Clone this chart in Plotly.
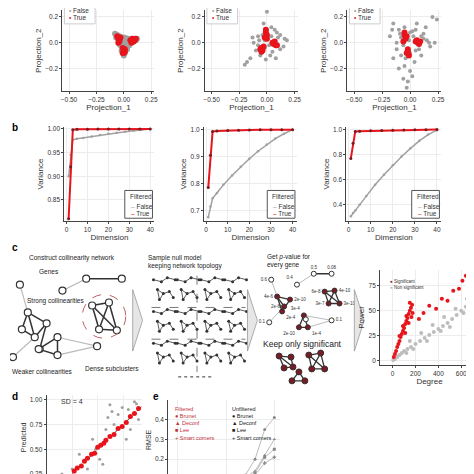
import plotly.graph_objects as go

W = H = 474
RED = "#e8141b"
GREY = "#a0a0a0"
DRED = "#7a1a22"

# ---- panel a: projections (x, y) ----
a1_false_x = [-0.08, -0.06, -0.04, -0.02, 0.0, 0.02, 0.04, 0.06, 0.08, 0.10, 0.12, -0.05, -0.02, 0.01, 0.03, 0.05, 0.07, -0.03, 0.0, 0.02, -0.01, 0.0, 0.03, 0.05, -0.06, -0.07, -0.04, 0.09, 0.11, -0.02, 0.01]
a1_false_y = [0.07, 0.06, 0.05, 0.04, 0.04, 0.035, 0.03, 0.03, 0.03, 0.03, 0.03, 0.03, 0.01, 0.0, -0.01, 0.0, 0.01, -0.02, -0.04, -0.03, -0.07, -0.10, -0.05, -0.02, 0.05, 0.04, -0.01, 0.01, 0.02, -0.06, -0.08]
a1_true_x = [-0.06, -0.05, -0.04, -0.03, -0.05, -0.04, 0.06, 0.08, 0.10, 0.07, 0.09, 0.11, -0.01, 0.0, 0.01, -0.01, 0.0, 0.01]
a1_true_y = [0.05, 0.03, 0.02, 0.04, 0.0, 0.01, 0.02, 0.03, 0.02, 0.0, 0.01, 0.03, -0.04, -0.06, -0.05, -0.08, -0.08, -0.07]

a2_false_x = [-0.12, -0.08, -0.05, 0.0, 0.05, 0.10, 0.15, 0.18, -0.10, -0.06, 0.04, 0.08, 0.12, -0.02, 0.02, -0.04, 0.06, -0.15, -0.20, -0.18, 0.0, -0.03, 0.03, 0.09, -0.08, 0.12, 0.16, -0.13, -0.01, 0.07, -0.07, 0.04, -0.02, 0.1]
a2_false_y = [0.0, 0.05, -0.08, 0.10, -0.07, 0.04, -0.03, 0.02, -0.06, -0.10, 0.12, -0.12, 0.06, 0.02, -0.02, 0.06, 0.0, -0.12, -0.17, -0.15, 0.24, 0.15, -0.10, 0.08, -0.02, -0.05, 0.03, 0.04, -0.13, 0.10, 0.02, 0.05, -0.04, -0.02]
a2_true_x = [-0.05, -0.04, -0.06, -0.03, -0.05, -0.02, -0.01, 0.0, -0.01, 0.0, 0.06, 0.08, 0.05, 0.07, 0.09]
a2_true_y = [-0.04, -0.06, -0.05, -0.03, -0.07, 0.04, 0.08, 0.06, 0.10, 0.03, -0.01, -0.02, 0.0, 0.01, -0.02]

a3_false_x = [-0.20, -0.15, -0.10, -0.05, 0.0, 0.05, 0.10, 0.15, 0.20, 0.22, -0.18, -0.12, -0.08, 0.08, 0.12, 0.18, -0.05, 0.0, -0.02, 0.02, -0.03, -0.06, 0.04, -0.10, 0.06, -0.15, 0.14, 0.24, -0.08, 0.0, -0.01, 0.03, -0.12, 0.10, -0.16, 0.17, -0.04, 0.05, -0.09, 0.12, 0.02, -0.06]
a3_false_y = [0.28, 0.15, 0.10, 0.12, 0.08, 0.10, 0.05, 0.02, 0.20, 0.0, 0.05, -0.05, -0.10, -0.05, 0.07, -0.03, -0.18, -0.22, -0.30, -0.26, -0.35, -0.28, -0.15, -0.20, 0.15, -0.12, 0.12, 0.18, 0.04, -0.08, 0.02, 0.05, 0.0, -0.10, 0.10, 0.0, -0.12, -0.06, 0.07, 0.03, 0.09, -0.02]
a3_true_x = [-0.05, -0.04, -0.06, -0.03, -0.05, 0.05, 0.07, 0.09, 0.06, 0.08, -0.02, -0.03, -0.01, -0.02]
a3_true_y = [0.06, 0.03, 0.01, 0.05, 0.08, 0.01, 0.0, 0.01, 0.02, -0.01, -0.05, -0.08, -0.10, -0.07]

# ---- panel b: cumulative variance ----
b_dim_f = [1, 2, 3, 5, 8, 12, 16, 20, 24, 28, 32, 36, 40]
b_dim_t = [1, 2, 3, 5, 10, 15, 20, 25, 30, 35, 40]
b1_false = [0.900, 0.945, 0.977, 0.979, 0.981, 0.984, 0.987, 0.990, 0.992, 0.994, 0.996, 0.998, 1.000]
b1_true = [0.810, 0.920, 0.998, 0.999, 0.999, 1.0, 1.0, 1.0, 1.0, 1.0, 1.0]
b2_false = [0.675, 0.715, 0.745, 0.765, 0.795, 0.830, 0.862, 0.892, 0.920, 0.945, 0.967, 0.985, 1.000]
b2_true = [0.785, 0.905, 0.993, 0.995, 0.997, 0.998, 0.999, 1.0, 1.0, 1.0, 1.0]
b3_false = [0.310, 0.335, 0.355, 0.400, 0.470, 0.560, 0.640, 0.715, 0.785, 0.850, 0.910, 0.960, 0.995]
b3_true = [0.770, 0.890, 0.985, 0.987, 0.990, 0.993, 0.995, 0.997, 0.998, 0.999, 1.0]

# ---- panel c: power vs degree ----
c_sig_deg = [10, 20, 30, 40, 50, 60, 70, 80, 90, 100, 110, 120, 130, 140, 150, 160, 170, 175, 60, 90, 120, 150, 230, 270, 320, 380, 430, 480, 530, 580, 610, 640, 660, 690, 110, 140, 165]
c_sig_pow = [4, 7, 10, 14, 17, 20, 24, 27, 30, 33, 37, 40, 43, 47, 50, 53, 56, 48, 25, 35, 45, 58, 42, 48, 55, 52, 62, 60, 70, 72, 80, 85, 75, 78, 28, 38, 44]
c_non_deg = [5, 20, 40, 60, 80, 100, 130, 160, 200, 240, 280, 320, 360, 400, 440, 480, 520, 560, 600, 640, 680, 700, 150, 250, 350, 450, 550, 650, 120, 180, 300, 420, 500, 620]
c_non_pow = [1, 2, 4, 6, 8, 10, 12, 14, 17, 20, 23, 26, 29, 32, 35, 38, 42, 46, 50, 54, 57, 60, 20, 28, 36, 44, 52, 62, 8, 12, 20, 30, 34, 48]

# ---- panel d: predicted vs true ----
d_red_x = [0.20, 0.23, 0.27, 0.30, 0.34, 0.37, 0.40, 0.44, 0.47, 0.50, 0.53, 0.56, 0.58, 0.62, 0.66, 0.70, 0.74, 0.78, 0.82, 0.86, 0.90]
d_red_y = [0.20, 0.22, 0.28, 0.31, 0.33, 0.38, 0.41, 0.45, 0.46, 0.52, 0.54, 0.56, 0.59, 0.63, 0.65, 0.71, 0.73, 0.77, 0.83, 0.86, 0.91]
d_grey_x = [0.15, 0.25, 0.32, 0.40, 0.45, 0.52, 0.60, 0.62, 0.66, 0.70, 0.74, 0.78, 0.82, 0.86, 0.90, 0.55, 0.48, 0.36, 0.64, 0.80, 0.88, 0.58]
d_grey_y = [0.25, 0.30, 0.45, 0.30, 0.60, 0.40, 0.82, 0.95, 0.75, 0.85, 0.92, 0.60, 0.70, 0.98, 0.80, 0.35, 0.50, 0.20, 0.88, 0.90, 0.96, 0.70]

# ---- panel e: RMSE ----
e_x = [1, 2, 3, 4, 5]
e_brunet = [0.10, 0.12, 0.20, 0.35, 0.41]
e_deconf = [0.10, 0.11, 0.14, 0.22, 0.30]
e_lee = [0.09, 0.10, 0.13, 0.21, 0.25]
e_smart = [0.08, 0.09, 0.12, 0.18, 0.21]

# ---- schematic (pixel-space) ----
net_nodes_x = [10, 53, 77, 113, 18, 37, 25, 12, 30, 48, 48, 29, 83, 100, 90, 108, 3, 88]
net_nodes_y = [277, 283, 271, 271, 305, 316, 330, 322, 342, 330, 348, 342, 298, 295, 322, 323, 350, 339]
net_edges = [(0, 4, "g"), (1, 2, "g"), (2, 3, "k"), (4, 5, "k"), (4, 6, "k"), (5, 6, "k"), (6, 7, "k"), (4, 7, "k"),
             (5, 8, "k"), (9, 10, "k"), (10, 11, "k"), (9, 11, "k"), (12, 13, "k"), (12, 14, "k"), (13, 15, "k"),
             (14, 15, "k"), (12, 15, "k"), (13, 14, "k"), (16, 6, "g"), (9, 17, "g"), (10, 17, "g")]
motif_x = [0, 8, 14, 22, 4, 10, 6, 16, 20]
motif_y = [0, 2, -2, 0, 10, 14, 20, 12, 18]
cell_x = [145, 193]
cell_y = [272, 304, 336]
pv_x = [264, 290, 307, 325, 270, 283, 277, 275, 262, 318, 328, 322, 333, 297, 301, 292, 299, 325]
pv_y = [272, 277, 266, 266, 289, 292, 299, 304, 315, 284, 283, 296, 296, 308, 320, 320, 312, 313]
pv_sig = [0, 0, 0, 0, 1, 1, 1, 1, 0, 1, 1, 1, 1, 1, 1, 1, 0, 0]
pv_edges = [(0, 4, "g"), (1, 2, "g"), (2, 3, "k"), (4, 5, "k"), (4, 6, "k"), (5, 7, "k"), (6, 7, "k"), (4, 7, "k"),
            (6, 8, "g"), (9, 10, "k"), (9, 11, "k"), (10, 12, "k"), (11, 12, "k"), (9, 12, "k"), (10, 11, "k"),
            (13, 14, "k"), (13, 15, "k"), (14, 15, "k"), (13, 17, "g"), (14, 17, "g")]
pv_text = ["0.6", "0.4", "0.5", "0.08", "4e-6", "2e-10", "2e-8", "2e-4", "0.1", "6e-8", "4e-10", "3e-7", "3e-10", "3e-4", "1e-4", "2e-10", "", "0.1"]
pv_pos = ["middle left", "top left", "top center", "top center", "middle left", "middle right", "middle left",
          "bottom right", "middle left", "middle left", "middle right", "middle left", "middle right",
          "top left", "bottom right", "bottom left", "top right", "middle right"]
keep_x = [272, 284, 277, 286, 302, 314, 305, 318, 285, 298, 292]
keep_y = [349, 350, 361, 360, 348, 346, 362, 362, 374, 374, 365]
keep_edges = [(0, 1), (0, 2), (1, 3), (2, 3), (0, 3), (4, 5), (4, 6), (5, 7), (6, 7), (4, 7), (5, 6), (8, 9), (8, 10), (9, 10)]

FONT = "Liberation Sans"
fig = go.Figure()


def dom(x0, x1, y0, y1):
    return [x0 / W, x1 / W], [1 - y1 / H, 1 - y0 / H]


boxes = {
    1: (53, 146, 0, 82), 2: (197, 291, 0, 82), 3: (341, 436, 0, 82),
    4: (55, 146, 118, 213), 5: (196, 290, 118, 213), 6: (340, 436, 118, 213),
    7: (0, 360, 235, 392), 8: (374, 474, 262, 358), 9: (37, 133, 388, 474), 10: (160, 273, 393, 474),
}
layout = dict(width=W, height=H, margin=dict(l=0, r=0, t=0, b=0), plot_bgcolor="white",
              paper_bgcolor="white", font=dict(family=FONT, size=7, color="#333"), showlegend=False)
for k, (x0, x1, y0, y1) in boxes.items():
    dx, dy = dom(x0, x1, y0, y1)
    s = "" if k == 1 else str(k)
    ax = dict(domain=dx, anchor="y" + s, showgrid=True, gridcolor="#ececec", zeroline=False,
              showline=True, linecolor="#444", ticks="outside", ticklen=2,
              tickfont=dict(size=6.5), title_standoff=2)
    ay = dict(domain=dy, anchor="x" + s, showgrid=True, gridcolor="#ececec", zeroline=False,
              showline=True, linecolor="#444", ticks="outside", ticklen=2, tickfont=dict(size=6.5),
              title_standoff=2)
    if k == 7:
        ax = dict(domain=dx, anchor="y7", range=[0, 360], visible=False)
        ay = dict(domain=dy, anchor="x7", range=[392, 235], visible=False)
    layout["xaxis" + s] = ax
    layout["yaxis" + s] = ay
fig.update_layout(**layout)

annotations = []
shapes = []


def paper_text(t, x, y, size=6.5, color="#333", anchor="left", yanchor="middle"):
    annotations.append(dict(text=t, x=x / W, y=1 - y / H, xref="paper", yref="paper", xanchor=anchor,
                            yanchor=yanchor, showarrow=False, align="left", font=dict(size=size, color=color)))


# panel a
proj = [(a1_false_x, a1_false_y, a1_true_x, a1_true_y), (a2_false_x, a2_false_y, a2_true_x, a2_true_y),
        (a3_false_x, a3_false_y, a3_true_x, a3_true_y)]
for i, (fx, fy, tx, ty) in enumerate(proj):
    s = "" if i == 0 else str(i + 1)
    fig.add_trace(go.Scatter(x=fx, y=fy, mode="markers", xaxis="x" + s, yaxis="y" + s,
                             marker=dict(color=GREY, size=4 if i else 6)))
    fig.add_trace(go.Scatter(x=tx, y=ty, mode="markers", xaxis="x" + s, yaxis="y" + s,
                             marker=dict(color=RED, size=6)))
    fig.layout["xaxis" + s].update(range=[-0.56, 0.28], tickvals=[-0.5, -0.25, 0, 0.25],
                                   ticktext=["\u22120.50", "\u22120.25", "0.00", "0.25"],
                                   title=dict(text="Projection_1", font=dict(size=8)))
    fig.layout["yaxis" + s].update(range=[-0.377, 0.254], tickvals=[-0.2, 0, 0.2],
                                   ticktext=["\u22120.2", "0.0", "0.2"],
                                   title=dict(text="Projection_2", font=dict(size=8)))
    x0 = boxes[i + 1][0]
    shapes.append(dict(type="rect", xref="paper", yref="paper", x0=(x0 + 2) / W, x1=(x0 + 33) / W,
                       y0=1 - 14 / H, y1=1.01, fillcolor="white", line=dict(color="#ccc", width=1)))
    paper_text("<span style='color:%s'>\u2022</span> False" % GREY, x0 + 5, 1)
    paper_text("<span style='color:%s'>\u2022</span> True" % RED, x0 + 5, 8)

# panel b
bdata = [(b1_false, b1_true, [0.85, 0.9, 0.95, 1.0], [0.805, 1.004], ["0.85", "0.90", "0.95", "1.00"]),
         (b2_false, b2_true, [0.7, 0.8, 0.9, 1.0], [0.66, 1.01], ["0.7", "0.8", "0.9", "1.0"]),
         (b3_false, b3_true, [0.4, 0.6, 0.8, 1.0], [0.27, 1.02], ["0.4", "0.6", "0.8", "1.0"])]
for i, (bf, bt, tv, rg, tt) in enumerate(bdata):
    k = i + 4
    fig.add_trace(go.Scatter(x=b_dim_f, y=bf, mode="lines+markers", xaxis="x%d" % k, yaxis="y%d" % k,
                             line=dict(color=GREY, width=1.5), marker=dict(size=2.5, color=GREY)))
    fig.add_trace(go.Scatter(x=b_dim_t, y=bt, mode="lines+markers", xaxis="x%d" % k, yaxis="y%d" % k,
                             line=dict(color=RED, width=2), marker=dict(size=3, color=DRED)))
    fig.layout["xaxis%d" % k].update(range=[-1, 42], tickvals=[0, 10, 20, 30, 40],
                                     title=dict(text="Dimension", font=dict(size=8)))
    fig.layout["yaxis%d" % k].update(range=rg, tickvals=tv, ticktext=tt,
                                     title=dict(text="Variance", font=dict(size=8)))
    x1, y1 = boxes[k][1], boxes[k][3]
    shapes.append(dict(type="rect", xref="paper", yref="paper", x0=(x1 - 30) / W, x1=(x1 - 2) / W,
                       y0=1 - (y1 - 3) / H, y1=1 - (y1 - 31) / H, fillcolor="white",
                       line=dict(color="#555", width=1)))
    paper_text("Filtered", x1 - 27, y1 - 25, 6.5)
    paper_text("<span style='color:%s'>\u2013</span> False" % GREY, x1 - 26, y1 - 15, 6.5)
    paper_text("<span style='color:%s'>\u2013</span> True" % RED, x1 - 26, y1 - 8, 6.5)

# panel c scatter
fig.add_trace(go.Scatter(x=c_non_deg, y=c_non_pow, mode="markers", xaxis="x8", yaxis="y8",
                         marker=dict(color="#bdbdbd", size=4)))
fig.add_trace(go.Scatter(x=c_sig_deg, y=c_sig_pow, mode="markers", xaxis="x8", yaxis="y8",
                         marker=dict(color=RED, size=4)))
fig.layout.xaxis8.update(range=[-110, 755], tickvals=[0, 200, 400, 600], title=dict(text="Degree", font=dict(size=8)))
fig.layout.yaxis8.update(range=[-4, 91], tickvals=[0, 25, 50, 75], title=dict(text="Power", font=dict(size=8)))
paper_text("<span style='color:%s'>\u25cf</span> Significant" % DRED, 382, 274, 4.5)
paper_text("<span style='color:#bbb'>\u25cf</span> Non significant", 382, 280, 4.5)

# panel d
fig.add_trace(go.Scatter(x=[0.0, 0.93], y=[0.0, 0.93], mode="lines", xaxis="x9", yaxis="y9",
                         line=dict(color="#333", width=1, dash="dash")))
fig.add_trace(go.Scatter(x=d_grey_x, y=d_grey_y, mode="markers", xaxis="x9", yaxis="y9",
                         marker=dict(color=GREY, size=3)))
fig.add_trace(go.Scatter(x=d_red_x, y=d_red_y, mode="markers", xaxis="x9", yaxis="y9",
                         marker=dict(color=RED, size=5)))
fig.layout.xaxis9.update(range=[0.0, 0.93], tickvals=[0.25, 0.5, 0.75], showticklabels=False)
fig.layout.yaxis9.update(range=[0.19, 1.05], tickvals=[0.25, 0.5, 0.75, 1.0],
                         ticktext=["0.25", "0.50", "0.75", "1.00"], title=dict(text="Predicted", font=dict(size=7)))

# panel e
for ys, sym in [(e_brunet, "circle"), (e_deconf, "triangle-up"), (e_lee, "square"), (e_smart, "cross")]:
    fig.add_trace(go.Scatter(x=e_x, y=ys, mode="lines+markers", xaxis="x10", yaxis="y10",
                             line=dict(color="#bbb", width=1), marker=dict(color="#888", size=3, symbol=sym)))
fig.layout.xaxis10.update(range=[-6, 5.6], showticklabels=False)
fig.layout.yaxis10.update(range=[0.095, 0.5], tickvals=[0.1, 0.2, 0.3, 0.4], title=dict(text="RMSE", font=dict(size=7)))


# schematic
def edge_trace(xs, ys, edges, color, width):
    ex, ey = [], []
    for a, b, *c in edges:
        if c and {"g": "#bbb", "k": "#333"}[c[0]] != color:
            continue
        ex += [xs[a], xs[b], None]
        ey += [ys[a], ys[b], None]
    return go.Scatter(x=ex, y=ey, mode="lines", xaxis="x7", yaxis="y7",
                      line=dict(color=color, width=width), hoverinfo="skip")


fig.add_trace(edge_trace(net_nodes_x, net_nodes_y, net_edges, "#bbb", 1.2))
fig.add_trace(edge_trace(net_nodes_x, net_nodes_y, net_edges, "#333", 1.5))
fig.add_trace(go.Scatter(x=net_nodes_x, y=net_nodes_y, mode="markers", xaxis="x7", yaxis="y7",
                         marker=dict(size=7, color="white", line=dict(color="#333", width=1.2))))
motif_e = [(0, 1, "k"), (1, 2, "k"), (2, 3, "k"), (4, 5, "k"), (5, 6, "k"), (4, 6, "k"), (7, 8, "k"), (5, 7, "k")]
for cx in cell_x:
    for cy in cell_y:
        for off in [0, 24]:
            mx = [cx + off + v for v in motif_x]
            my = [cy + v for v in motif_y]
            fig.add_trace(edge_trace(mx, my, motif_e, "#333", 0.8))
            fig.add_trace(go.Scatter(x=mx, y=my, mode="markers", xaxis="x7", yaxis="y7",
                                     marker=dict(size=3, color="#333")))
fig.add_trace(edge_trace(pv_x, pv_y, pv_edges, "#bbb", 1))
fig.add_trace(edge_trace(pv_x, pv_y, pv_edges, "#333", 1.3))
fig.add_trace(go.Scatter(x=pv_x, y=pv_y, mode="markers+text", text=pv_text, textposition=pv_pos,
                         textfont=dict(size=4.5), xaxis="x7", yaxis="y7",
                         marker=dict(size=5, color=[DRED if s else "white" for s in pv_sig],
                                     line=dict(color="#333", width=1))))
fig.add_trace(edge_trace(keep_x, keep_y, [(a, b, "k") for a, b in keep_edges], "#333", 1.3))
fig.add_trace(go.Scatter(x=keep_x, y=keep_y, mode="markers", xaxis="x7", yaxis="y7",
                         marker=dict(size=6, color=DRED, line=dict(color="#333", width=1))))

shapes += [
    dict(type="circle", xref="x7", yref="y7", x0=73, x1=117, y0=287, y1=331, line=dict(color="#c0606a", dash="dash", width=1)),
    dict(type="line", xref="x7", yref="y7", x0=189, x1=189, y0=268, y1=365, line=dict(color="#555", dash="dash", width=0.8)),
    dict(type="line", xref="x7", yref="y7", x0=143, x1=238, y0=300, y1=300, line=dict(color="#555", dash="dash", width=0.8)),
    dict(type="line", xref="x7", yref="y7", x0=143, x1=238, y0=332, y1=332, line=dict(color="#555", dash="dash", width=0.8)),
    dict(type="line", xref="x7", yref="y7", x0=170, x1=205, y0=370, y1=370, line=dict(color="#333", dash="dot", width=1)),
]
for xa in [124, 240, 348]:
    shapes.append(dict(type="path", xref="x7", yref="y7", path="M%d,282 L%d,313 L%d,344 Z" % (xa, xa + 10, xa),
                       fillcolor="#e6e6e6", line=dict(color="#999", width=0.8)))
fig.update_layout(shapes=shapes)

ann = [("Construct collinearity network", 17, 250, 6.5), ("Genes", 27, 264, 6.5), ("Strong collinearities", 15, 293, 6.5),
       ("Weaker collinearities", 0, 365, 6.5), ("Dense subclusters", 74, 362, 6.5),
       ("Sample null model<br>keeping network topology", 137, 254, 6.5),
       ("Get <i>p</i>-value for<br>every gene", 258, 253, 6.5), ("Keep only significant", 254, 337, 8.5)]
annotations += [dict(text=t, x=x, y=y, xref="x7", yref="y7", xanchor="left", showarrow=False,
                     font=dict(size=s, color="#222"), align="left") for t, x, y, s in ann]
for t, x, y in [("b", 0, 118), ("c", 0, 240), ("d", 0, 390), ("e", 143, 390)]:
    paper_text("<b>%s</b>" % t, x, y, 10, "black")
annotations.append(dict(text="SD = 4", x=0.12, y=0.98, xref="x9", yref="y9", xanchor="left",
                        showarrow=False, font=dict(size=7)))
paper_text("<span style='color:#c0303a'>Filtered<br>\u25cf Brunet<br>\u25b2 Deconf<br>\u25a0 Lee<br>+ Smart corners</span>",
           165, 397, 5.5, yanchor="top")
paper_text("Unfiltered<br>\u25cf Brunet<br>\u25b2 Deconf<br>\u25a0 Lee<br>+ Smart corners", 222, 397, 5.5, "#222", yanchor="top")
fig.update_layout(annotations=annotations)

fig.write_html("out.html")
